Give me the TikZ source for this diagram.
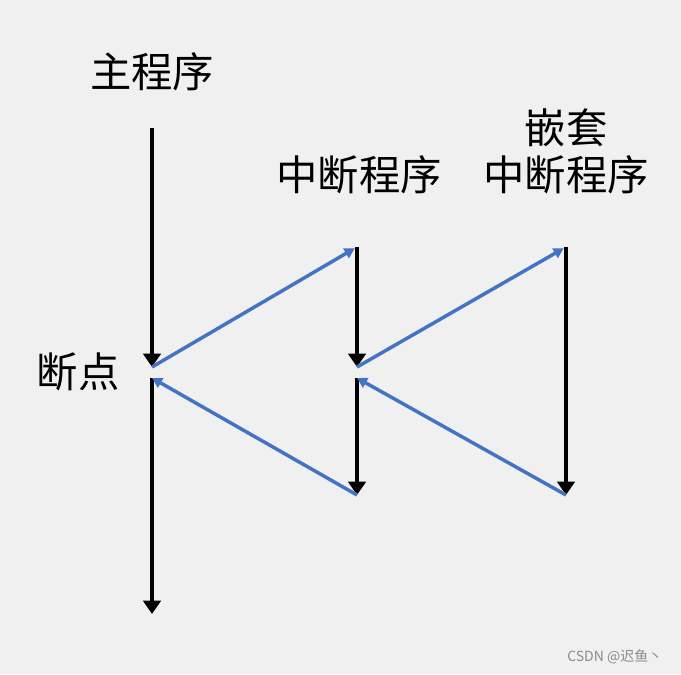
\documentclass[tikz,border=0pt]{standalone}
\usepackage{fontspec}
\usepackage{xcolor}
\usetikzlibrary{arrows.meta}
\setmainfont{Noto Sans CJK SC}
\newfontfamily\cjk{Noto Sans CJK SC}
\definecolor{bgc}{HTML}{F0F0F0}
\definecolor{bluec}{HTML}{4472C4}

\begin{document}
\begin{tikzpicture}[x=0.75pt,y=-0.75pt,
	flow/.style={line width=3.3pt,-{Triangle[length=10pt,width=13pt]}},
	back/.style={line width=2.6pt,bluec,-{Triangle[length=7.5pt,width=8pt]}},
	lbl/.style={font=\cjk\fontsize{31}{36}\selectfont,inner sep=0pt}]
	\fill[bgc] (0,0) rectangle (681,674);
	\useasboundingbox (0,0) rectangle (681,674);
	% main line
	\coordinate (mTop) at (152,128);
	\coordinate (bpA) at (152,367);
	\coordinate (bpB) at (152,378);
	\coordinate (mEnd) at (152,614);
	% interrupt
	\coordinate (iTop) at (357,247);
	\coordinate (iA) at (357,367);
	\coordinate (iB) at (357,378);
	\coordinate (iEnd) at (357,495);
	% nested
	\coordinate (nTop) at (566,247);
	\coordinate (nEnd) at (566,495);
	\node[lbl] (main) at (152,72) {主程序};
	\node[lbl] (intr) at (359,175) {中断程序};
	\node[lbl] (nest) at (566,128) {嵌套};
	\node[lbl] (nestb) at (566,175) {中断程序};
	\node[lbl] (bp) at (78,372) {断点};
	\draw[flow] (mTop)--(bpA);
	\draw[flow] (bpB)--(mEnd);
	\draw[flow] (iTop)--(iA);
	\draw[flow] (iB)--(iEnd);
	\draw[flow] (nTop)--(nEnd);
	\draw[back,shorten >=2pt] (bpA)--(iTop);
	\draw[back,shorten >=2pt] (iA)--(nTop);
	\draw[back] (iEnd)--(bpB);
	\draw[back] (nEnd)--(iB);
	\node[font=\cjk\fontsize{10.5}{12}\selectfont,gray!90,anchor=east] (mark) at (667,657) {CSDN @迟鱼丶};
\end{tikzpicture}
\end{document}
